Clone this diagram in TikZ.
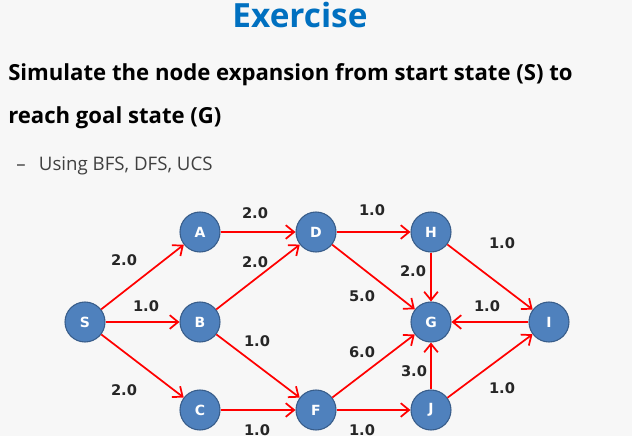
\documentclass[tikz,border=0pt]{standalone}
\usepackage{fontspec}
\setmainfont{Open Sans}
\newfontfamily\graphfont{DejaVu Sans}
\usepackage{xcolor}
\usetikzlibrary{arrows.meta,positioning}
\definecolor{titleblue}{RGB}{0,112,192}
\definecolor{nodeblue}{RGB}{79,129,189}
\definecolor{nodeline}{RGB}{56,93,138}
\definecolor{bodygray}{RGB}{64,64,64}
\definecolor{bg}{RGB}{247,247,247}

\begin{document}
\begin{tikzpicture}[
  x=0.75pt, y=-0.75pt,
  state/.style={circle, draw=nodeline, line width=0.8pt, fill=nodeblue, text=white, font=\graphfont\bfseries\fontsize{10.5}{10.5}\selectfont, minimum size=30pt, inner sep=0pt},
  arc/.style={draw=red, line width=1.3pt, -{Straight Barb[length=2.2mm,width=3.6mm]}},
  lab/.style={font=\graphfont\bfseries\fontsize{11}{11}\selectfont, text=black!85, inner sep=1pt},
  line/.style={anchor=base west, inner sep=0pt}
]
\fill[bg] (0,0) rectangle (632,436);
\useasboundingbox (0,0) rectangle (632,436);
% heading and task text
\node[anchor=base, inner sep=0pt, text=titleblue, font=\bfseries\fontsize{25}{25}\selectfont] (title) at (300,27) {Exercise};
\node[line, font=\bfseries\fontsize{16.6}{16.6}\selectfont] (task1) at (8,80) {Simulate the node expansion from start state (S) to};
\node[line, font=\bfseries\fontsize{16.6}{16.6}\selectfont] (task2) at (8,123) {reach goal state (G)};
\node[line, text=bodygray, font=\fontsize{14}{14}\selectfont] (task3) at (16,170) {--\hspace{10pt}Using BFS, DFS, UCS};
% states
\node[state] (S) at (85,322) {S};
\node[state] (A) at (200,232) {A};
\node[state] (B) at (200,322) {B};
\node[state] (C) at (200,410) {C};
\node[state] (D) at (316,232) {D};
\node[state] (F) at (316,410) {F};
\node[state] (H) at (431,232) {H};
\node[state] (G) at (431,322) {G};
\node[state] (J) at (431,410) {J};
\node[state] (I) at (549,322) {I};
% weighted arcs
\foreach \a/\b/\w/\lx/\ly in {S/A/2.0/124/260, S/B/1.0/146/306, S/C/2.0/124/390,
  A/D/2.0/255/213, B/D/2.0/255/262, B/F/1.0/257/341, C/F/1.0/257/430,
  D/H/1.0/372/210, D/G/5.0/362/296, H/G/2.0/413/271, H/I/1.0/502/243,
  I/G/1.0/487/306, F/G/6.0/362/352, J/G/3.0/414/371, J/I/1.0/502/388, F/J/1.0/362/430}{
  \draw[arc] (\a) -- (\b);
  \node[lab] (w\a\b) at (\lx,\ly) {\w};
}
\end{tikzpicture}
\end{document}
